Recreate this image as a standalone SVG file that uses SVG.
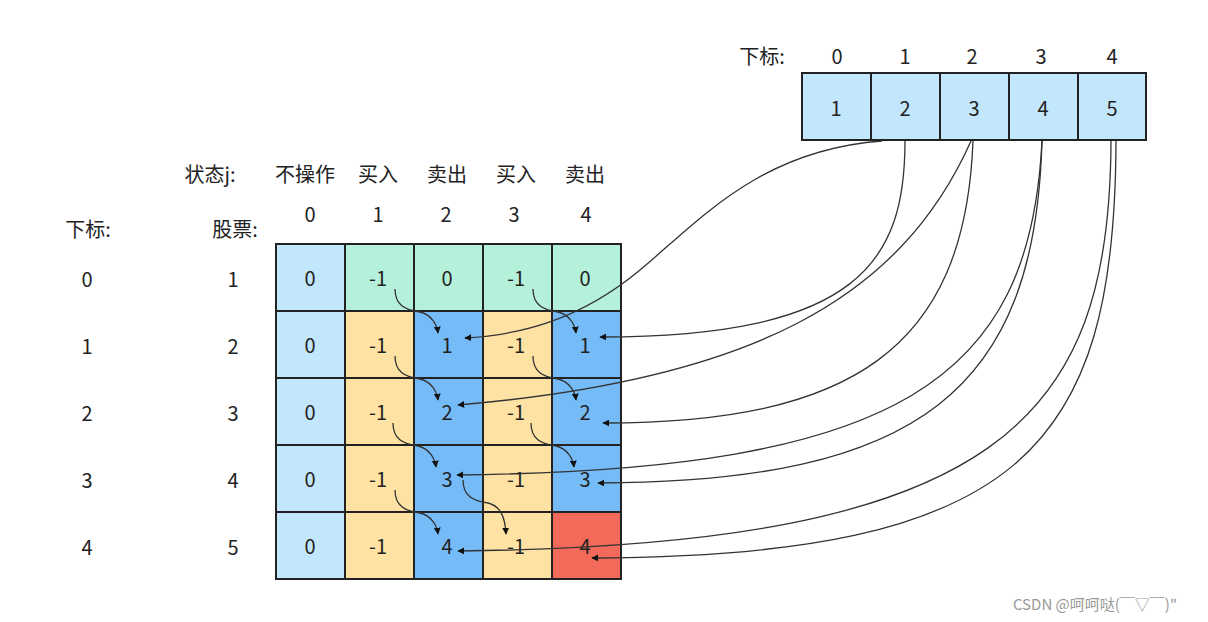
<svg xmlns="http://www.w3.org/2000/svg" width="1208" height="622" viewBox="0 0 1208 622">
<style>
text{font-family:"Noto Sans CJK SC","Noto Sans",sans-serif;font-size:20px;fill:#222;text-anchor:middle;dominant-baseline:central}
.c{stroke:#222;stroke-width:2}
.lb{fill:#c2e6fb}.g{fill:#b4f0da}.y{fill:#fde2a3}.b{fill:#75bbf7}.r{fill:#f36a5a}
.l{fill:none;stroke:#333;stroke-width:1.3;marker-end:url(#a)}
</style>
<defs><marker id="a" viewBox="0 0 10 10" refX="9" refY="5" markerWidth="7" markerHeight="7" orient="auto" markerUnits="userSpaceOnUse"><path d="M0,0L10,5L0,10z" fill="#111"/></marker></defs>
<rect width="1208" height="622" fill="#fff"/>
<g id="labels">
<text x="762" y="55">下标:</text>
<text x="837" y="55">0</text><text x="905" y="55">1</text><text x="972" y="55">2</text><text x="1041" y="55">3</text><text x="1112" y="55">4</text>
<text x="210" y="173">状态j:</text>
<text x="305" y="173">不操作</text><text x="378" y="173">买入</text><text x="447" y="173">卖出</text><text x="516" y="173">买入</text><text x="585" y="173">卖出</text>
<text x="310" y="213">0</text><text x="378" y="213">1</text><text x="446" y="213">2</text><text x="514" y="213">3</text><text x="586" y="213">4</text>
<text x="88" y="228">下标:</text><text x="235" y="228">股票:</text>
<text x="87" y="278">0</text><text x="87" y="345">1</text><text x="87" y="412">2</text><text x="87" y="479">3</text><text x="87" y="546">4</text>
<text x="233" y="278">1</text><text x="233" y="345">2</text><text x="233" y="412">3</text><text x="233" y="479">4</text><text x="233" y="546">5</text>
<text x="1095" y="603" style="font-size:15px;fill:#999">CSDN @呵呵哒(￣▽￣)"</text>
</g>
<g id="array">
<rect class="c lb" x="802" y="73" width="69" height="67"/><rect class="c lb" x="871" y="73" width="69" height="67"/><rect class="c lb" x="940" y="73" width="69" height="67"/><rect class="c lb" x="1009" y="73" width="69" height="67"/><rect class="c lb" x="1078" y="73" width="68" height="67"/>
<text x="836" y="107">1</text><text x="905" y="107">2</text><text x="974" y="107">3</text><text x="1043" y="107">4</text><text x="1112" y="107">5</text>
</g>
<g id="grid">
<rect class="c lb" x="276" y="244" width="69" height="67"/><rect class="c g" x="345" y="244" width="69" height="67"/><rect class="c g" x="414" y="244" width="69" height="67"/><rect class="c g" x="483" y="244" width="69" height="67"/><rect class="c g" x="552" y="244" width="69" height="67"/>
<rect class="c lb" x="276" y="311" width="69" height="67"/><rect class="c y" x="345" y="311" width="69" height="67"/><rect class="c b" x="414" y="311" width="69" height="67"/><rect class="c y" x="483" y="311" width="69" height="67"/><rect class="c b" x="552" y="311" width="69" height="67"/>
<rect class="c lb" x="276" y="378" width="69" height="67"/><rect class="c y" x="345" y="378" width="69" height="67"/><rect class="c b" x="414" y="378" width="69" height="67"/><rect class="c y" x="483" y="378" width="69" height="67"/><rect class="c b" x="552" y="378" width="69" height="67"/>
<rect class="c lb" x="276" y="445" width="69" height="67"/><rect class="c y" x="345" y="445" width="69" height="67"/><rect class="c b" x="414" y="445" width="69" height="67"/><rect class="c y" x="483" y="445" width="69" height="67"/><rect class="c b" x="552" y="445" width="69" height="67"/>
<rect class="c lb" x="276" y="512" width="69" height="67"/><rect class="c y" x="345" y="512" width="69" height="67"/><rect class="c b" x="414" y="512" width="69" height="67"/><rect class="c y" x="483" y="512" width="69" height="67"/><rect class="c r" x="552" y="512" width="69" height="67"/>
<text x="310" y="277">0</text><text x="378" y="277">-1</text><text x="447" y="277">0</text><text x="516" y="277">-1</text><text x="585" y="277">0</text>
<text x="310" y="344">0</text><text x="378" y="344">-1</text><text x="447" y="344">1</text><text x="516" y="344">-1</text><text x="585" y="344">1</text>
<text x="310" y="411">0</text><text x="378" y="411">-1</text><text x="447" y="411">2</text><text x="516" y="411">-1</text><text x="585" y="411">2</text>
<text x="310" y="478">0</text><text x="378" y="478">-1</text><text x="447" y="478">3</text><text x="516" y="478">-1</text><text x="585" y="478">3</text>
<text x="310" y="545">0</text><text x="378" y="545">-1</text><text x="447" y="545">4</text><text x="516" y="545">-1</text><text x="585" y="545">4</text>
</g>
<g id="connectors">
<path class="l" d="M395,289 C395,305 405,310 420,312 C432,315 437,325 438,333"/>
<path class="l" d="M533,289 C533,305 543,310 558,312 C570,315 575,325 576,333"/>
<path class="l" d="M395,356 C395,372 405,377 420,379 C432,382 437,392 438,400"/>
<path class="l" d="M533,356 C533,372 543,377 558,379 C570,382 575,392 576,400"/>
<path class="l" d="M393,423 C393,439 403,444 418,446 C430,449 435,459 436,467"/>
<path class="l" d="M531,423 C531,439 541,444 556,446 C568,449 573,459 574,467"/>
<path class="l" d="M395,490 C395,506 405,511 420,513 C432,516 437,526 438,534"/>
<path class="l" d="M463,480 C463,496 473,501 488,503 C500,506 505,516 506,534"/>
<path class="l" d="M882,141 C760,150 700,220 640,270 C580,320 520,335 465,338"/>
<path class="l" d="M905,141 C905,260 860,337 600,337"/>
<path class="l" d="M971,141 C900,300 750,380 458,405"/>
<path class="l" d="M973,141 C965,350 850,423 603,423"/>
<path class="l" d="M1042,141 C1030,380 900,470 457,475"/>
<path class="l" d="M1042,141 C1035,390 920,482 598,483"/>
<path class="l" d="M1111,141 C1110,420 1000,545 458,551"/>
<path class="l" d="M1116,141 C1115,450 1020,556 592,558"/>
</g>
</svg>
